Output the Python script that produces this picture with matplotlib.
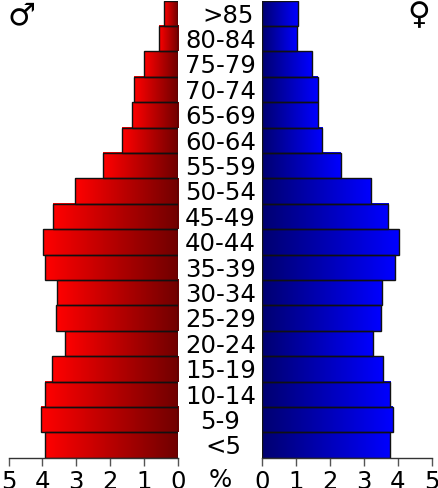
import numpy as np
import matplotlib
matplotlib.use("Agg")
import matplotlib.pyplot as plt
from matplotlib.colors import LinearSegmentedColormap

age_groups = [">85", "80-84", "75-79", "70-74", "65-69", "60-64", "55-59", "50-54", "45-49",
              "40-44", "35-39", "30-34", "25-29", "20-24", "15-19", "10-14", "5-9", "<5"]
male = [0.41, 0.57, 0.99, 1.29, 1.37, 1.65, 2.21, 3.04, 3.69,
        3.97, 3.92, 3.57, 3.60, 3.33, 3.72, 3.92, 4.05, 3.92]
female = [1.05, 1.03, 1.47, 1.65, 1.64, 1.77, 2.33, 3.23, 3.72,
          4.04, 3.92, 3.54, 3.50, 3.27, 3.56, 3.78, 3.85, 3.78]
x_ticks = [0, 1, 2, 3, 4, 5]

W, H = 438, 489
plt.rcParams["font.family"] = "DejaVu Sans"
fig = plt.figure(figsize=(W / 100, H / 100), dpi=100)

def px_axes(x0, x1, y_top, y_bot):
    return fig.add_axes([x0 / W, 1 - y_bot / H, (x1 - x0) / W, (y_bot - y_top) / H])

Y_TOP, Y_BOT = 1.5, 458.8
ax_l = px_axes(8.5, 178.0, Y_TOP, Y_BOT)
ax_r = px_axes(262.0, 431.5, Y_TOP, Y_BOT)

cm_red = LinearSegmentedColormap.from_list("r", ["#700000", "#ff0000"])
cm_blue = LinearSegmentedColormap.from_list("b", ["#000070", "#0000ff"])
grad = np.linspace(0, 1, 256).reshape(1, -1)
ypos = np.arange(len(age_groups))

for ax, vals, cm in ((ax_l, male, cm_red), (ax_r, female, cm_blue)):
    ax.set_xlim(0, 5)
    ax.set_ylim(len(age_groups) - 0.5, -0.5)
    bars = ax.barh(ypos, vals, height=1.0, color="none", edgecolor="#111111", linewidth=1.0, zorder=3)
    for y, v, b in zip(ypos, vals, bars):
        ax.imshow(grad, extent=(0, v, y + 0.5, y - 0.5), cmap=cm, aspect="auto", zorder=2)
    ax.set_xlim(0, 5)
    ax.set_ylim(len(age_groups) - 0.5, -0.5)
    for s in ("top", "left", "right"):
        ax.spines[s].set_visible(False)
    ax.spines["bottom"].set_color("#333333")
    ax.spines["bottom"].set_linewidth(1.0)
    ax.set_yticks([])
    ax.set_xticks(x_ticks)
    ax.tick_params(axis="x", length=5.8, width=1, color="#555555", labelsize=17.6, pad=2.4,
                   labelcolor="black", direction="out")
    ax.patch.set_alpha(0)
ax_l.set_xlim(5, 0)

def fx(px):
    return px / W
def fy(py):
    return 1 - py / H

label_x = {">85": 228, "<5": 223.5}
rows = (Y_BOT - Y_TOP) / len(age_groups)
for i, lab in enumerate(age_groups):
    fig.text(fx(label_x.get(lab, 220.5)), fy(Y_TOP + rows * (i + 0.5) + 1.3), lab, ha="center", va="center",
             fontsize=17.6, color="black")
fig.text(fx(220), fy(480.5), "%", ha="center", va="center", fontsize=17.6, color="black")
fig.text(fx(21.5), fy(15.5), "\u2642", ha="center", va="center", fontsize=22.5, color="black")
fig.text(fx(419), fy(16), "\u2640", ha="center", va="center", fontsize=22.5, color="black")

fig.savefig("out.png", dpi=100)
